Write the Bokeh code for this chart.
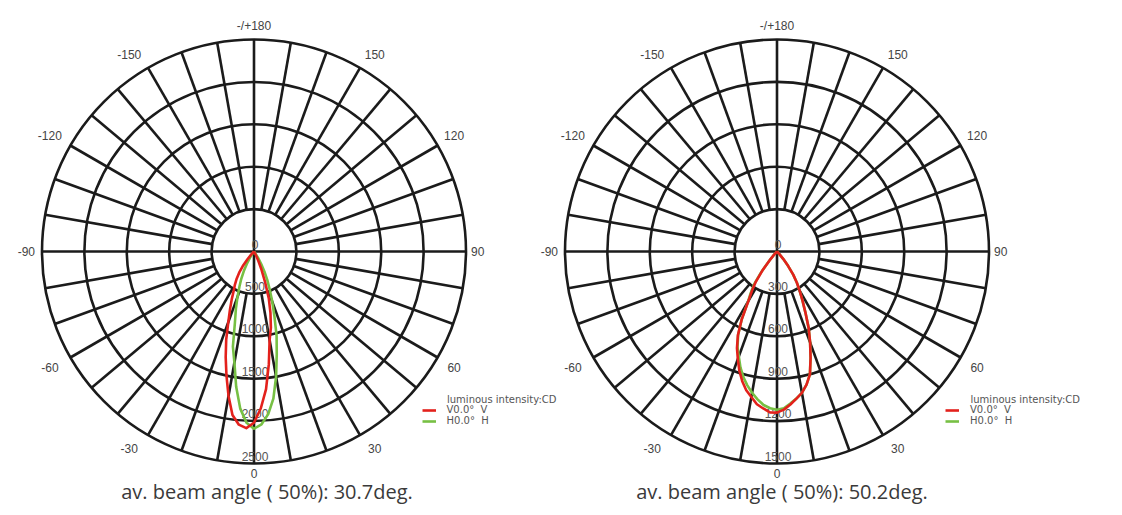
import numpy as np
from bokeh.plotting import figure
from bokeh.models import Range1d, Legend, LegendItem, Label, ColumnDataSource
from bokeh.embed import file_html
from bokeh.resources import INLINE
from bokeh.core.properties import value

# ---------------- data ----------------
angles = [-45, -42.5, -40, -37.5, -35, -32.5, -30, -27.5, -25, -22.5, -20, -17.5, -15,
          -12.5, -10, -7.5, -5, -2.5, 0, 2.5, 5, 7.5, 10, 12.5, 15, 17.5, 20, 22.5,
          25, 27.5, 30, 32.5, 35, 37.5, 40, 42.5, 45]

# left chart (cd)
left_v = [0, 50, 120, 220, 305, 380, 450, 515, 620, 740, 885, 1090, 1290,
          1500, 1730, 1945, 2050, 2085, 2020, 1850, 1630, 1340, 1060, 920, 750, 580, 380, 230,
          120, 50, 0, 0, 0, 0, 0, 0, 0]
left_h = [0, 0, 0, 0, 30, 90, 170, 260, 355, 450, 567, 710, 870,
          1150, 1330, 1610, 1860, 2020, 2090, 2040, 1925, 1750, 1500, 1240, 1030, 800, 630, 485,
          370, 265, 170, 90, 30, 0, 0, 0, 0]

# right chart (cd)
right_v = [0, 30, 80, 170, 260, 330, 405, 540, 655, 740, 810, 885, 950,
           1005, 1045, 1090, 1115, 1140, 1140, 1120, 1087, 1050, 1015, 965, 900, 790, 685, 585,
           475, 390, 320, 262, 200, 130, 70, 25, 0]
right_h = [0, 30, 85, 180, 280, 345, 410, 540, 650, 730, 790, 860, 920,
           970, 1015, 1055, 1090, 1110, 1120, 1110, 1080, 1050, 1015, 965, 900, 790, 685, 585,
           475, 390, 320, 262, 200, 130, 70, 25, 0]

left_rings = [0, 500, 1000, 1500, 2000, 2500]
right_rings = [0, 300, 600, 900, 1200, 1500]

angle_ticks = [0, 30, 60, 90, 120, 150, 180, -150, -120, -90, -60, -30]
angle_labels = ["0", "30", "60", "90", "120", "150", "-/+180", "-150", "-120", "-90", "-60", "-30"]
spoke_step = 10

left_caption = "av. beam angle ( 50%): 30.7deg."
right_caption = "av. beam angle ( 50%): 50.2deg."
legend_title = "luminous intensity:CD"
series_labels = ["V0.0°  V", "H0.0°  H"]

RED = "#e3211c"
GREEN = "#77c044"
GRID = "#1b1b1b"
TXT = "#555555"

PX = 212.0            # pixels per unit radius
W, H = 1120, 513
CX, CY = 253.5, 251.0  # left chart centre (px from top-left)
DX = 523.0            # horizontal distance between chart centres (px)

p = figure(width=W, height=H, output_backend="svg", toolbar_location=None,
           x_axis_type=None, y_axis_type=None, min_border=0,
           x_range=Range1d(-CX / PX, (W - CX) / PX),
           y_range=Range1d(-(H - CY) / PX, CY / PX))
p.outline_line_color = None
p.grid.visible = False
p.background_fill_color = "white"
p.border_fill_color = "white"


def label_place(a):
    """radius and angle (deg) used to place an angle label"""
    m = abs(a)
    if m == 0:
        return 1.047, a
    if m == 180:
        return 1.066, a
    if m == 90:
        return 1.055, a
    if m in (30, 150):
        eff = 31.5 if m == 30 else 148.5
        return 1.09, eff if a > 0 else -eff
    return 1.09, a


def polar_chart(ox, vvals, hvals, rings, caption, cap_x, leg_x):
    rmax = float(rings[-1])

    # rings
    radii = [r / rmax for r in rings[1:]]
    p.circle(x=[ox] * len(radii), y=[0] * len(radii), radius=radii,
             fill_color=None, line_color=GRID, line_width=2.6)

    # spokes
    inner = rings[1] / rmax
    xs, ys = [], []
    for a in range(0, 360, spoke_step):
        t = np.deg2rad(a)
        r0 = 0.0 if a % 90 == 0 else inner
        xs.append([ox + r0 * np.sin(t), ox + np.sin(t)])
        ys.append([-r0 * np.cos(t), -np.cos(t)])
    p.multi_line(xs=xs, ys=ys, line_color=GRID, line_width=2.6)

    # angle labels
    lx, ly, lo = [], [], []
    for a in angle_ticks:
        rr, ae = label_place(a)
        t = np.deg2rad(ae)
        lx.append(ox + rr * np.sin(t))
        ly.append(-rr * np.cos(t))
        lo.append(-4 if a < 0 else 0)
    src_lab = ColumnDataSource(dict(x=lx, y=ly, text=angle_labels, xo=lo))
    p.text(x="x", y="y", text="text", x_offset="xo", source=src_lab,
           text_align="center", text_baseline="middle",
           text_font=value("Liberation Sans"), text_font_size="12px", text_color="#444444")

    # radial labels
    p.text(x=[ox] * len(rings), y=[-r / rmax for r in rings], text=[str(r) for r in rings],
           text_align="center", text_baseline="bottom", y_offset=-3, x_offset=1,
           text_font=value("Liberation Sans"), text_font_size="12px", text_color=TXT)

    # curves
    th = np.deg2rad(np.array(angles))
    vr = np.array(vvals) / rmax
    hr = np.array(hvals) / rmax
    src_h = ColumnDataSource(dict(x=ox + hr * np.sin(th), y=-hr * np.cos(th)))
    src_v = ColumnDataSource(dict(x=ox + vr * np.sin(th), y=-vr * np.cos(th)))
    rh = p.line("x", "y", source=src_h, line_color=GREEN, line_width=2.6, line_join="round")
    rv = p.line("x", "y", source=src_v, line_color=RED, line_width=2.6, line_join="round")

    legend = Legend(items=[LegendItem(label=series_labels[0], renderers=[rv]),
                           LegendItem(label=series_labels[1], renderers=[rh])],
                    location=(leg_x, 87), orientation="vertical",
                    border_line_color=None, background_fill_alpha=0,
                    padding=0, margin=0, spacing=0,
                    glyph_width=14, glyph_height=10, label_height=10, label_standoff=11,
                    label_text_font="DejaVu Sans", label_text_font_size="10px",
                    label_text_color=TXT, label_text_baseline="middle")
    p.add_layout(legend, "center")
    p.add_layout(Label(x=leg_x + 25, y=114.5, x_units="screen", y_units="screen",
                       text=legend_title, text_font="DejaVu Sans", text_font_size="10px",
                       text_color=TXT, text_baseline="middle"))

    p.add_layout(Label(x=cap_x, y=22, x_units="screen", y_units="screen", text=caption,
                       text_font="Open Sans", text_font_size="20px", text_color="#3a3a3a",
                       text_align="center", text_baseline="middle"))


polar_chart(0.0, left_v, left_h, left_rings, left_caption, 266.5, 421.5)
polar_chart(DX / PX, right_v, right_h, right_rings, right_caption, 781.5, 945.0)

open("out.html", "w").write(file_html(p, INLINE))
